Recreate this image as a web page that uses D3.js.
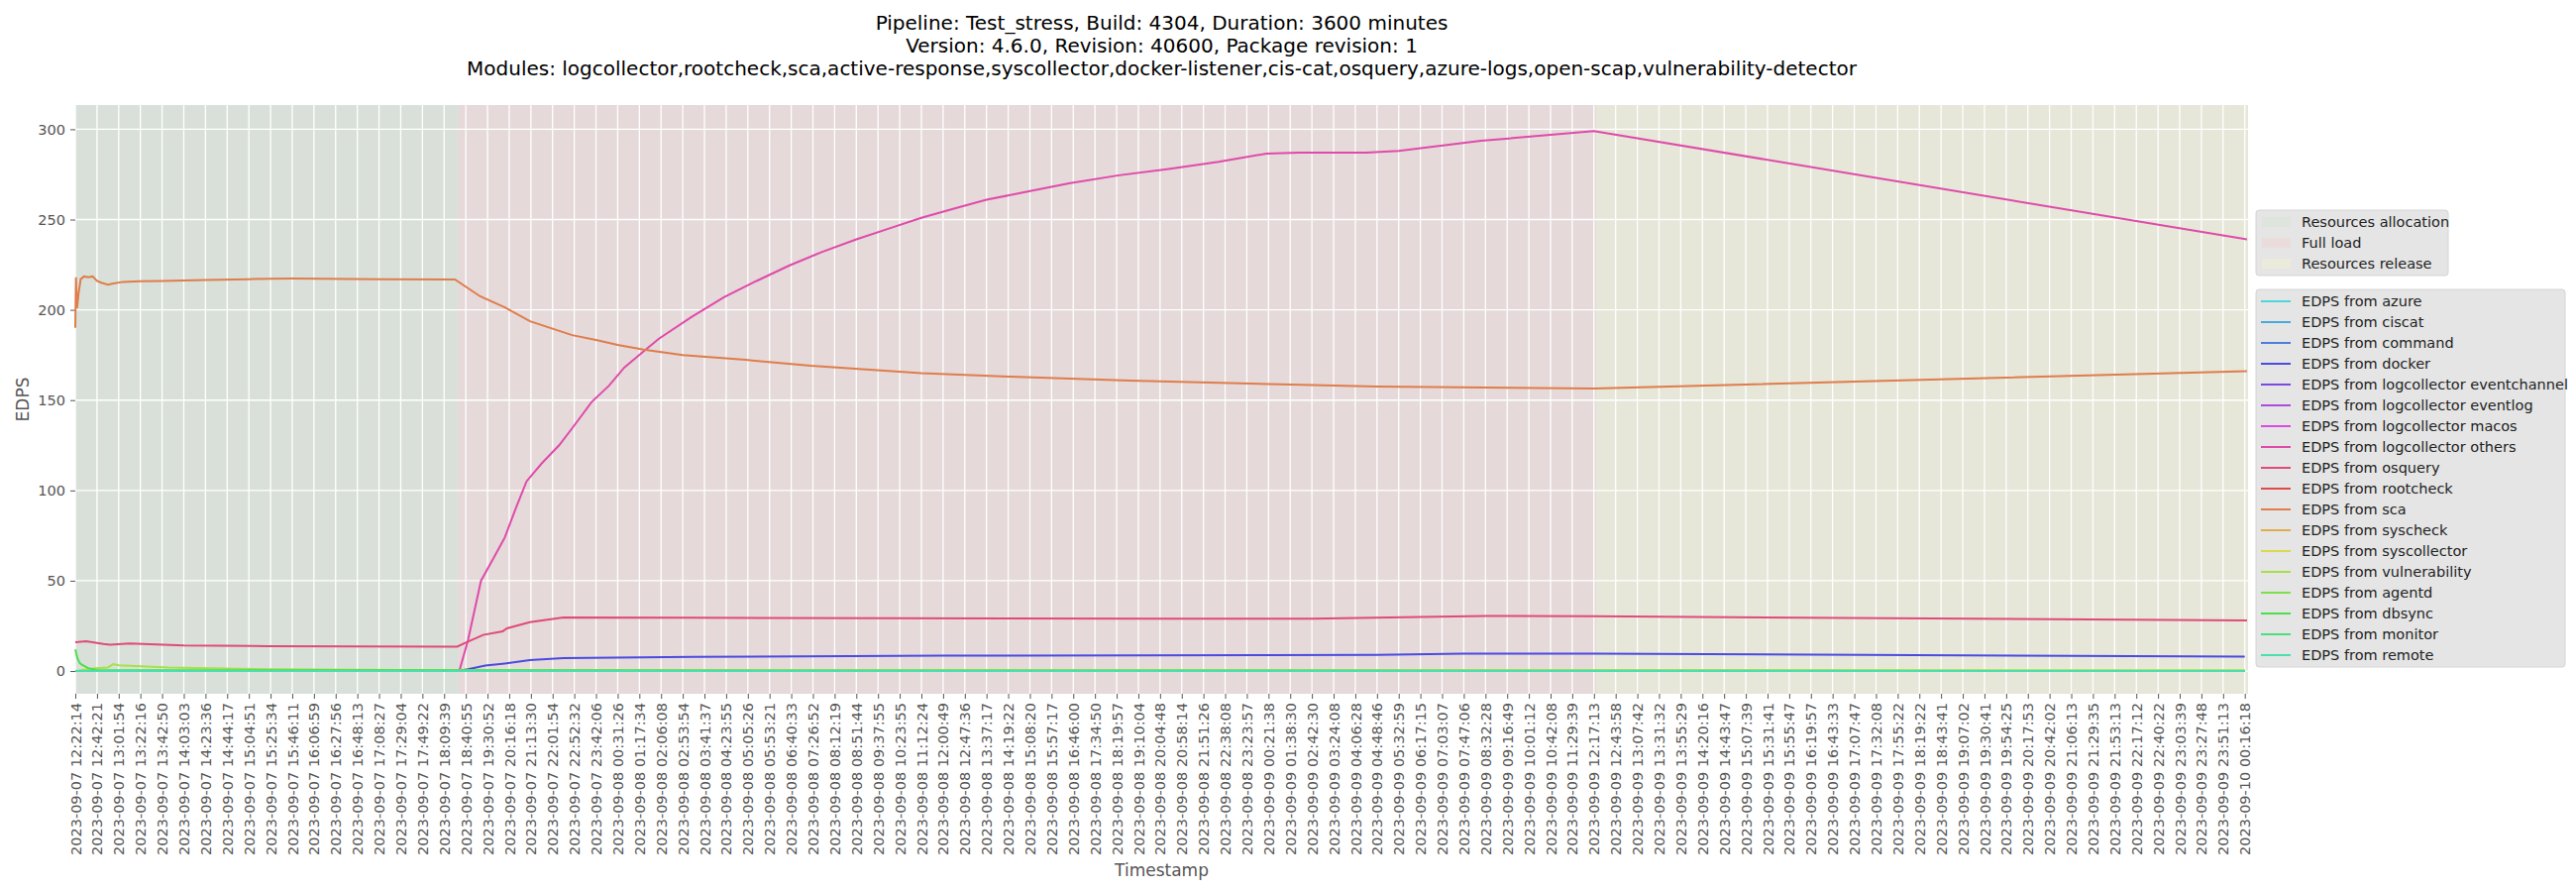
<!DOCTYPE html>
<html>
<head>
<meta charset="utf-8">
<script src="https://cdn.jsdelivr.net/npm/d3@7"></script>
<style>
  body { margin: 0; background: #fff; }
  text { font-family: "DejaVu Sans", sans-serif; }
</style>
</head>
<body>
<div id="chart"></div>
<script>
// Tick labels (one per sample shown on the x axis)
var day7 = ["12:22:14","12:42:21","13:01:54","13:22:16","13:42:50","14:03:03","14:23:36","14:44:17","15:04:51","15:25:34","15:46:11","16:06:59","16:27:56","16:48:13","17:08:27","17:29:04","17:49:22","18:09:39","18:40:55","19:30:52","20:16:18","21:13:30","22:01:54","22:52:32","23:42:06"];
var day8 = ["00:31:26","01:17:34","02:06:08","02:53:54","03:41:37","04:23:55","05:05:26","05:53:21","06:40:33","07:26:52","08:12:19","08:51:44","09:37:55","10:23:55","11:12:24","12:00:49","12:47:36","13:37:17","14:19:22","15:08:20","15:57:17","16:46:00","17:34:50","18:19:57","19:10:04","20:04:48","20:58:14","21:51:26","22:38:08","23:23:57"];
var day9 = ["00:21:38","01:38:30","02:42:30","03:24:08","04:06:28","04:48:46","05:32:59","06:17:15","07:03:07","07:47:06","08:32:28","09:16:49","10:01:12","10:42:08","11:29:39","12:17:13","12:43:58","13:07:42","13:31:32","13:55:29","14:20:16","14:43:47","15:07:39","15:31:41","15:55:47","16:19:57","16:43:33","17:07:47","17:32:08","17:55:22","18:19:22","18:43:41","19:07:02","19:30:41","19:54:25","20:17:53","20:42:02","21:06:13","21:29:35","21:53:13","22:17:12","22:40:22","23:03:39","23:27:48","23:51:13"];
var day10 = ["00:16:18"];
var tickLabels = [].concat(
  day7.map(t => "2023-09-07 " + t),
  day8.map(t => "2023-09-08 " + t),
  day9.map(t => "2023-09-09 " + t),
  day10.map(t => "2023-09-10 " + t));

// Phases, in sample index units
var phaseNames = ["Resources allocation", "Full load", "Resources release"];
var phaseStart = [0, 17.64, 70.12];
var phaseEnd = [17.64, 70.12, 100.15];
var phaseFill = ["#d9e0d9", "#e5d9da", "#e6e6d9"];
var phaseLegendFill = ["#dde5dd", "#ebdcdc", "#ebebdc"];

// Series
var seriesNames = ["azure","ciscat","command","docker","logcollector eventchannel","logcollector eventlog","logcollector macos","logcollector others","osquery","rootcheck","sca","syscheck","syscollector","vulnerability","agentd","dbsync","monitor","remote"];
var seriesColors = ["#4fd6d9","#4aa9dc","#4b7ddf","#4b4bdf","#7d4bdf","#ad4bdf","#dd4bdf","#df4ba9","#df4b79","#df4b4b","#df7d4b","#dfad4b","#d9d94b","#a9df4b","#7ddf4b","#4bdf4b","#4bdf7d","#4bdfad"];

var zeroX = [0, 100];
var zeroY = [0, 0];

var dockerX = [0, 17.6, 18.1, 18.9, 19.8, 20.95, 22.5, 28.5, 40, 55, 60, 64, 70, 100];
var dockerY = [0, 0, 1, 3, 4.2, 6, 7.1, 7.8, 8.5, 8.8, 9, 9.6, 9.6, 8];

var othersX = [0, 17.7, 18.1, 18.7, 19.3, 19.8, 20.3, 20.8, 21.5, 22.3, 23, 23.8, 24.6, 25.3, 26.1, 26.9, 28.4, 29.9, 31.4, 32.9, 34.4, 36, 37.5, 39, 40.5, 42, 43.5, 45.8, 48.1, 50.4, 52.7, 54.9, 56.4, 59.5, 61, 64.8, 70, 100.1];
var othersY = [0, 0, 17, 50, 63, 74, 90, 105, 115, 125, 136, 149, 158, 168, 176, 184, 196, 207, 216, 224.5, 232, 239, 245, 251, 256, 261, 264.5, 270, 274.5, 278, 282, 286.5, 287, 287, 288, 293.6, 299, 239];

var osqueryX = [0, 0.5, 1.3, 1.6, 2.5, 5, 8.9, 17.6, 18, 18.8, 19.7, 19.9, 20.95, 22.5, 28.5, 50, 57, 62, 65, 70, 100.1];
var osqueryY = [16, 16.5, 15, 14.6, 15.3, 14.2, 13.8, 13.5, 15.7, 20, 22, 23.6, 27, 29.6, 29.5, 29, 29, 30, 30.5, 30.3, 28];

var scaX = [0, 0.03, 0.08, 0.15, 0.25, 0.4, 0.6, 0.8, 1.0, 1.2, 1.5, 1.7, 2.2, 3, 4, 5, 6, 8, 10, 14, 17.5, 18.66, 19.8, 20.96, 22.9, 24, 25, 26.2, 28, 30.9, 33.9, 39, 43.1, 48.6, 60, 70, 100.1];
var scaY = [190, 218, 201, 209, 217, 218.5, 218, 218.5, 216, 215, 214, 214.5, 215.5, 215.8, 216, 216.3, 216.5, 217, 217.3, 217, 216.8, 207.5, 201.4, 193.7, 186, 183.3, 180.6, 178, 175, 172.3, 169, 165, 163, 160.8, 157.5, 156.5, 166];

var vulnX = [0, 0.9, 1.5, 1.75, 2, 4.3, 8.9, 17, 100];
var vulnY = [0, 1.5, 2, 3.8, 3.2, 1.9, 1, 0.5, 0.4];

var dbsyncX = [0, 0.1, 0.2, 0.3, 0.6, 1, 100];
var dbsyncY = [12, 7, 4.5, 3.5, 1.6, 0.5, 0];

var seriesX = {docker: dockerX, "logcollector others": othersX, osquery: osqueryX, sca: scaX, vulnerability: vulnX, dbsync: dbsyncX};
var seriesY = {docker: dockerY, "logcollector others": othersY, osquery: osqueryY, sca: scaY, vulnerability: vulnY, dbsync: dbsyncY};

var yTicks = [0, 50, 100, 150, 200, 250, 300];

// Set up the chart
var svgWidth = 2600, svgHeight = 900;
var margin = {top: 106, left: 76};
var width = 2269 - 76;
var height = 700 - 106;

var svg = d3.select("#chart").append("svg")
  .attr("width", svgWidth).attr("height", svgHeight);

var chartGroup = svg.append("g")
  .attr("transform", `translate(${margin.left}, ${margin.top})`);

var xScale = d3.scaleLinear().domain([0, 100.15]).range([0, width]);
var yScale = d3.scaleLinear().domain([-12.6, 313.4]).range([height, 0]);

chartGroup.append("rect").attr("width", width).attr("height", height).attr("fill", "#e5e5e5");

// Phase spans
chartGroup.selectAll(".phase").data(phaseNames).enter().append("rect")
  .attr("x", (d, i) => xScale(phaseStart[i]))
  .attr("width", (d, i) => xScale(phaseEnd[i]) - xScale(phaseStart[i]))
  .attr("y", 0).attr("height", height)
  .attr("fill", (d, i) => phaseFill[i]);

// Grid
chartGroup.append("g").selectAll("line").data(d3.range(tickLabels.length)).enter().append("line")
  .attr("x1", d => xScale(d)).attr("x2", d => xScale(d))
  .attr("y1", 0).attr("y2", height)
  .attr("stroke", "#fff").attr("stroke-width", 1.3);
chartGroup.append("g").selectAll("line").data(yTicks).enter().append("line")
  .attr("x1", 0).attr("x2", width)
  .attr("y1", d => yScale(d)).attr("y2", d => yScale(d))
  .attr("stroke", "#fff").attr("stroke-width", 1.3);

// Axes
var xAxis = d3.axisBottom(xScale).tickValues(d3.range(tickLabels.length))
  .tickFormat(i => tickLabels[i]).tickSize(5).tickPadding(4);
var gx = chartGroup.append("g").attr("transform", `translate(0, ${height})`).call(xAxis);
gx.select(".domain").remove();
gx.selectAll(".tick line").attr("stroke", "#555");
gx.selectAll(".tick text")
  .attr("transform", "rotate(-90)")
  .attr("text-anchor", "end")
  .attr("x", -9).attr("y", 0).attr("dy", "0.35em")
  .attr("fill", "#555").style("font-size", "14.5px");

var yAxis = d3.axisLeft(yScale).tickValues(yTicks).tickSize(5).tickPadding(5);
var gy = chartGroup.append("g").call(yAxis);
gy.select(".domain").remove();
gy.selectAll(".tick line").attr("stroke", "#555");
gy.selectAll(".tick text").attr("fill", "#555").style("font-size", "14.5px");

// Lines
var line = d3.line().x(d => xScale(d[0])).y(d => yScale(d[1]));
seriesNames.forEach(function(name, i) {
  var xs = seriesX[name] || zeroX;
  var ys = seriesY[name] || zeroY;
  chartGroup.append("path")
    .datum(xs.map((x, j) => [x, ys[j]]))
    .attr("d", line)
    .attr("fill", "none")
    .attr("stroke", seriesColors[i])
    .attr("stroke-width", 2);
});

// Labels
svg.append("text").text("EDPS")
  .attr("transform", `translate(23, ${margin.top + height / 2}) rotate(-90)`)
  .attr("text-anchor", "middle").attr("dy", "0.35em")
  .attr("fill", "#555").style("font-size", "17px");
svg.append("text").text("Timestamp")
  .attr("x", margin.left + width / 2).attr("y", 884)
  .attr("text-anchor", "middle").attr("fill", "#555").style("font-size", "17px");

var titleLines = ["Pipeline: Test_stress, Build: 4304, Duration: 3600 minutes",
  "Version: 4.6.0, Revision: 40600, Package revision: 1",
  "Modules: logcollector,rootcheck,sca,active-response,syscollector,docker-listener,cis-cat,osquery,azure-logs,open-scap,vulnerability-detector"];
svg.selectAll(".title").data(titleLines).enter().append("text")
  .text(d => d)
  .attr("x", margin.left + width / 2)
  .attr("y", (d, i) => 30 + i * 23)
  .attr("text-anchor", "middle").attr("fill", "#000").style("font-size", "20px");

// Legends
var lg1 = svg.append("g").attr("transform", "translate(2277, 212)");
lg1.append("rect").attr("width", 194).attr("height", 66).attr("rx", 3)
  .attr("fill", "#e5e5e5").attr("stroke", "#d4d4d4");
phaseNames.forEach(function(name, i) {
  var row = lg1.append("g").attr("transform", `translate(0, ${12 + i * 21})`);
  row.append("rect").attr("x", 6).attr("y", -5).attr("width", 29).attr("height", 10).attr("fill", phaseLegendFill[i]);
  row.append("text").text(name).attr("x", 46).attr("dy", "0.35em").attr("fill", "#222").style("font-size", "14.5px");
});

var lg2 = svg.append("g").attr("transform", "translate(2277, 292)");
lg2.append("rect").attr("width", 312).attr("height", 381).attr("rx", 3)
  .attr("fill", "#e5e5e5").attr("stroke", "#d4d4d4");
seriesNames.forEach(function(name, i) {
  var row = lg2.append("g").attr("transform", `translate(0, ${12 + i * 21})`);
  row.append("line").attr("x1", 5).attr("x2", 35).attr("stroke", seriesColors[i]).attr("stroke-width", 2);
  row.append("text").text("EDPS from " + name).attr("x", 46).attr("dy", "0.35em").attr("fill", "#222").style("font-size", "14.5px");
});
</script>
</body>
</html>
